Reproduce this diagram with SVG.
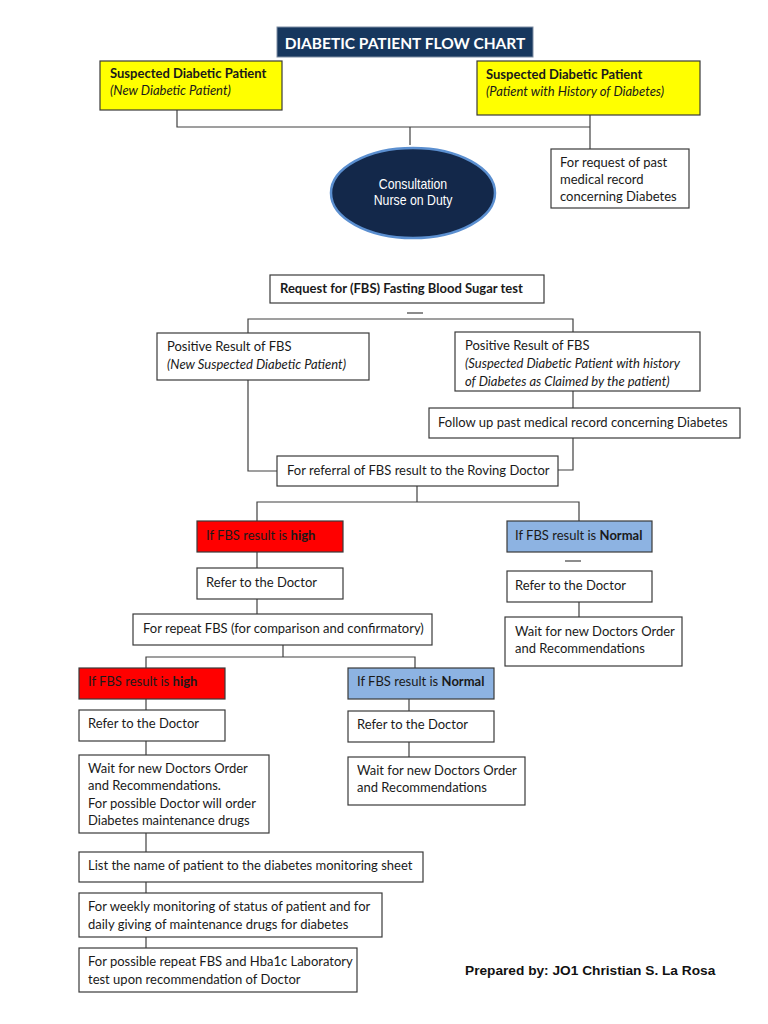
<svg xmlns="http://www.w3.org/2000/svg" width="768" height="1024" viewBox="0 0 768 1024">
<style>
.box{fill:#ffffff;stroke:#3a3a3a;stroke-width:1.2}
.yel{fill:#ffff00;stroke:#3a3a3a;stroke-width:1.2}
.red{fill:#ff0000;stroke:#3a3a3a;stroke-width:1.2}
.blu{fill:#8db3e2;stroke:#3a3a3a;stroke-width:1.2}
.t{font-family:Lato,"Open Sans","Liberation Sans",sans-serif;font-size:13px;fill:#1a1a1a}
.b{font-weight:bold}
.i{font-style:italic}
.nt{font-family:'Liberation Sans',Arial,sans-serif;font-size:14px;fill:#ffffff}
#connectors line,#connectors polyline{stroke:#404040;stroke-width:1.2;fill:none}
</style>
<rect width="768" height="1024" fill="#ffffff"/>
<g id="connectors">
<polyline points="177,110 177,127 590,127"/>
<line x1="590" y1="115" x2="590" y2="149"/>
<line x1="410" y1="127" x2="410" y2="145"/>
<line x1="407" y1="313" x2="423" y2="313"/>
<polyline points="248,333 248,319 573,319 573,332"/>
<line x1="573" y1="391" x2="573" y2="408"/>
<polyline points="248,380 248,471 277,471"/>
<polyline points="573,438 573,470 558,470"/>
<line x1="417" y1="486" x2="417" y2="502"/>
<polyline points="257,521 257,502 579,502 579,521"/>
<line x1="565" y1="561" x2="581" y2="561"/>
<line x1="257" y1="552" x2="257" y2="568"/>
<line x1="257" y1="599" x2="257" y2="614"/>
<line x1="579" y1="602" x2="579" y2="617"/>
<line x1="283" y1="645" x2="283" y2="657"/>
<polyline points="146,668 146,657 415,657 415,668"/>
<line x1="146" y1="699" x2="146" y2="710"/>
<line x1="146" y1="741" x2="146" y2="755"/>
<line x1="409" y1="699" x2="409" y2="711"/>
<line x1="409" y1="742" x2="409" y2="757"/>
<line x1="146" y1="833" x2="146" y2="852"/>
<line x1="146" y1="882" x2="146" y2="893"/>
<line x1="146" y1="937" x2="146" y2="948"/>
</g>
<g id="title">
<rect x="277" y="27" width="256" height="30" fill="#17375e" stroke="#7f8ea3" stroke-width="1"/>
<text x="405" y="48.5" text-anchor="middle" style="font-family:Lato,'Open Sans',sans-serif;font-size:15.5px;font-weight:bold;fill:#ffffff">DIABETIC PATIENT FLOW CHART</text>
</g>
<g id="new-patient">
<rect class="yel" x="100" y="61" width="182" height="49"/>
<text class="t b" x="110" y="78">Suspected Diabetic Patient</text>
<text class="t i" x="110" y="95">(New Diabetic Patient)</text>
</g>
<g id="history-patient">
<rect class="yel" x="477" y="61" width="223" height="54"/>
<text class="t b" x="486" y="79">Suspected Diabetic Patient</text>
<text class="t i" x="486" y="96">(Patient with History of Diabetes)</text>
</g>
<g id="nurse">
<ellipse cx="413" cy="193" rx="82" ry="45" fill="#13284a" stroke="#5b8fd0" stroke-width="2.5"/>
<text class="nt" transform="translate(413,189) scale(0.88,1)" text-anchor="middle">Consultation</text>
<text class="nt" transform="translate(413,204.5) scale(0.88,1)" text-anchor="middle">Nurse on Duty</text>
</g>
<g id="request-record">
<rect class="box" x="551" y="149" width="138" height="59"/>
<text class="t" x="560" y="167">For request of past</text>
<text class="t" x="560" y="184">medical record</text>
<text class="t" x="560" y="201">concerning Diabetes</text>
</g>
<g id="fbs-request">
<rect class="box" x="270" y="275" width="274" height="28"/>
<text class="t b" x="280" y="293">Request for (FBS) Fasting Blood Sugar test</text>
</g>
<g id="positive-new">
<rect class="box" x="157" y="333" width="212" height="47"/>
<text class="t" x="167" y="351">Positive Result of FBS</text>
<text class="t i" x="167" y="369">(New Suspected Diabetic Patient)</text>
</g>
<g id="positive-history">
<rect class="box" x="455" y="332" width="245" height="59"/>
<text class="t" x="465" y="350">Positive Result of FBS</text>
<text class="t i" x="465" y="368">(Suspected Diabetic Patient with history</text>
<text class="t i" x="465" y="386">of Diabetes as Claimed by the patient)</text>
</g>
<g id="follow-up">
<rect class="box" x="429" y="408" width="311" height="30"/>
<text class="t" x="438" y="427">Follow up past medical record concerning Diabetes</text>
</g>
<g id="referral">
<rect class="box" x="277" y="456" width="281" height="30"/>
<text class="t" x="287" y="475">For referral of FBS result to the Roving Doctor</text>
</g>
<g id="high-1">
<rect class="red" x="197" y="521" width="146" height="31"/>
<text class="t" x="206" y="540">If FBS result is <tspan class="b">high</tspan></text>
</g>
<g id="normal-1">
<rect class="blu" x="507" y="521" width="145" height="31"/>
<text class="t" x="515" y="540">If FBS result is <tspan class="b">Normal</tspan></text>
</g>
<g id="refer-high-1">
<rect class="box" x="197" y="568" width="146" height="31"/>
<text class="t" x="206" y="587">Refer to the Doctor</text>
</g>
<g id="repeat-fbs">
<rect class="box" x="133" y="614" width="299" height="31"/>
<text class="t" x="143" y="633">For repeat FBS (for comparison and confirmatory)</text>
</g>
<g id="refer-normal-1">
<rect class="box" x="507" y="571" width="145" height="31"/>
<text class="t" x="515" y="590">Refer to the Doctor</text>
</g>
<g id="wait-normal-1">
<rect class="box" x="505" y="617" width="177" height="49"/>
<text class="t" x="515" y="636">Wait for new Doctors Order</text>
<text class="t" x="515" y="653">and Recommendations</text>
</g>
<g id="high-2">
<rect class="red" x="79" y="668" width="146" height="31"/>
<text class="t" x="88" y="686">If FBS result is <tspan class="b">high</tspan></text>
</g>
<g id="normal-2">
<rect class="blu" x="348" y="668" width="146" height="31"/>
<text class="t" x="357" y="686">If FBS result is <tspan class="b">Normal</tspan></text>
</g>
<g id="refer-high-2">
<rect class="box" x="79" y="710" width="146" height="31"/>
<text class="t" x="88" y="728">Refer to the Doctor</text>
</g>
<g id="wait-high-2">
<rect class="box" x="79" y="755" width="190" height="78"/>
<text class="t" x="88" y="773">Wait for new Doctors Order</text>
<text class="t" x="88" y="790">and Recommendations.</text>
<text class="t" x="88" y="808">For possible Doctor will order</text>
<text class="t" x="88" y="825">Diabetes maintenance drugs</text>
</g>
<g id="refer-normal-2">
<rect class="box" x="348" y="711" width="146" height="31"/>
<text class="t" x="357" y="729">Refer to the Doctor</text>
</g>
<g id="wait-normal-2">
<rect class="box" x="348" y="757" width="177" height="48"/>
<text class="t" x="357" y="775">Wait for new Doctors Order</text>
<text class="t" x="357" y="792">and Recommendations</text>
</g>
<g id="list-name">
<rect class="box" x="79" y="852" width="344" height="30"/>
<text class="t" x="88" y="870">List the name of patient to the diabetes monitoring sheet</text>
</g>
<g id="weekly">
<rect class="box" x="79" y="893" width="303" height="44"/>
<text class="t" x="88" y="911">For weekly monitoring of status of patient and for</text>
<text class="t" x="88" y="929">daily giving of maintenance drugs for diabetes</text>
</g>
<g id="repeat-hba1c">
<rect class="box" x="79" y="948" width="278" height="44"/>
<text class="t" x="88" y="966">For possible repeat FBS and Hba1c Laboratory</text>
<text class="t" x="88" y="984">test upon recommendation of Doctor</text>
</g>
<text x="465" y="975" style="font-family:'Liberation Sans',Arial,sans-serif;font-size:13.7px;font-weight:bold;fill:#111111">Prepared by: JO1 Christian S. La Rosa</text>
</svg>
